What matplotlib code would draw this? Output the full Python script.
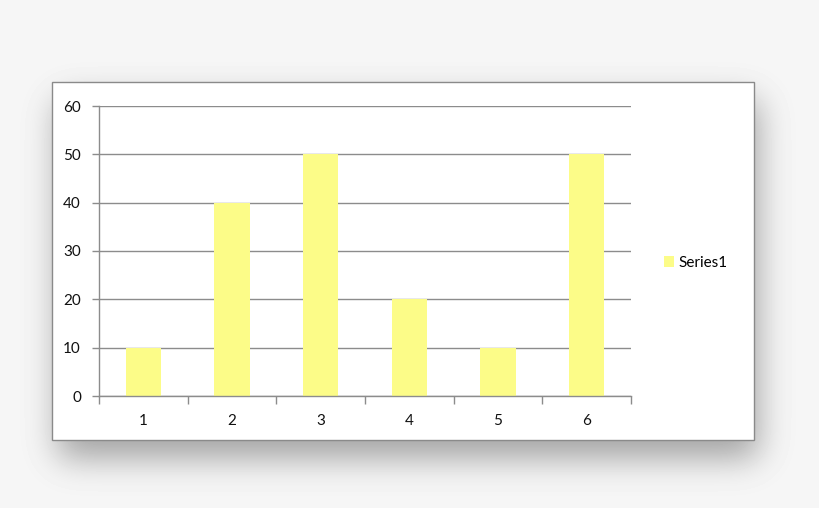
import numpy as np
import matplotlib
matplotlib.use('Agg')
import matplotlib.pyplot as plt
from matplotlib.patches import Rectangle

# chart data
categories = ['1', '2', '3', '4', '5', '6']
values = [10, 40, 50, 20, 10, 50]
series_name = 'Series1'
y_ticks = [0, 10, 20, 30, 40, 50, 60]

plt.rcParams['font.family'] = ['Lato', 'DejaVu Sans']

W, H = 820, 508
fig = plt.figure(figsize=(W / 100, H / 100), dpi=100)
fig.patch.set_facecolor('#f5f5f5')

# background with a soft drop shadow below the white panel
bg = fig.add_axes([0, 0, 1, 1])
bg.set_axis_off()
mask = np.zeros((H, W))
mask[100:458, 58:758] = 1.0

def blur(a, sigma):
    r = int(sigma * 3)
    k = np.exp(-0.5 * (np.arange(-r, r + 1) / sigma) ** 2)
    k /= k.sum()
    a = np.apply_along_axis(lambda m: np.convolve(m, k, mode='same'), 0, a)
    a = np.apply_along_axis(lambda m: np.convolve(m, k, mode='same'), 1, a)
    return a

shadow = blur(mask, 17)
img = (246 - 85 * shadow) / 255.0
bg.imshow(img, cmap='gray', vmin=0, vmax=1, extent=[0, W, H, 0], aspect='auto')
bg.set_xlim(0, W)
bg.set_ylim(H, 0)
bg.add_patch(Rectangle((52, 82), 702, 358, facecolor='white',
                       edgecolor='#8a8a8a', linewidth=1.0))

ax = fig.add_axes([99 / W, 1 - 396 / H, 532 / W, 290 / H])
ax.patch.set_alpha(0)
x = np.arange(1, len(categories) + 1)
bars = ax.bar(x, values, width=0.4, color='#fcfc88', label=series_name, zorder=2)

ax.set_xlim(0.5, len(categories) + 0.5)
ax.set_ylim(0, 60)
ax.set_yticks(y_ticks)
ax.yaxis.grid(True, color='#8c8c8c', linewidth=1.0, zorder=1)
ax.set_axisbelow(True)

ax.set_xticks(x)
ax.set_xticklabels(categories)
ax.set_xticks(np.arange(0.5, len(categories) + 1), minor=True)
ax.tick_params(axis='x', which='major', length=0, pad=13, labelsize=11, labelcolor='#111111')
ax.tick_params(axis='x', which='minor', length=6, width=1, color='#8c8c8c', direction='out')
ax.tick_params(axis='y', length=5, width=1, color='#8c8c8c', pad=8, labelsize=11, labelcolor='#111111')

for s in ['top', 'right']:
    ax.spines[s].set_visible(False)
for s in ['left', 'bottom']:
    ax.spines[s].set_color('#8c8c8c')
    ax.spines[s].set_linewidth(1.0)

fig.legend(handles=[bars], labels=[series_name], loc='center left',
           bbox_to_anchor=(656 / W, 1 - 263 / H), frameon=False,
           handlelength=0.7, handleheight=0.7, handletextpad=0.3,
           borderpad=0, fontsize=11)

fig.savefig('out.png', dpi=100, facecolor=fig.get_facecolor())
